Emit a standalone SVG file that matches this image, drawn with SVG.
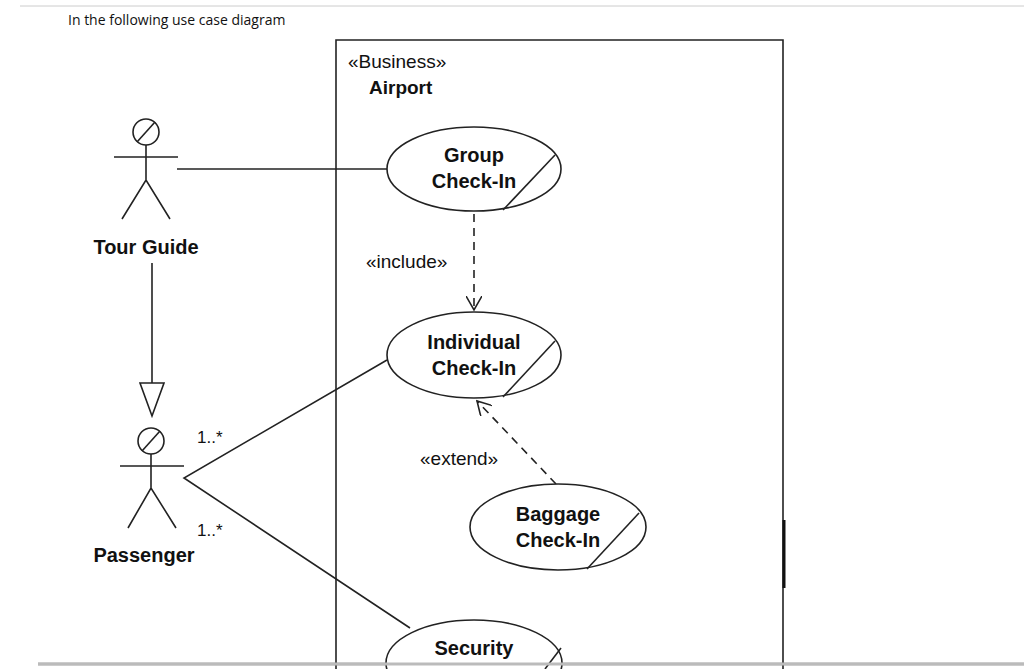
<svg xmlns="http://www.w3.org/2000/svg" width="1024" height="669" viewBox="0 0 1024 669">
<style>
.l{stroke:#222;stroke-width:1.6;fill:none}
.u{stroke:#222;stroke-width:1.6;fill:#fff}
.d{stroke:#222;stroke-width:1.6;fill:none;stroke-dasharray:8,6}
text{font-family:"Liberation Sans",Arial,sans-serif;fill:#111}
.n{font-size:20px;font-weight:bold;text-anchor:middle}
.s{font-size:19px}
</style>
<defs>
<marker id="open" markerWidth="16" markerHeight="16" refX="14" refY="8" orient="auto" markerUnits="userSpaceOnUse"><path d="M0,0 L14,8 L0,16" fill="none" stroke="#222" stroke-width="1.6"/></marker>
</defs>
<rect width="1024" height="669" fill="#fff"/>
<line x1="20" y1="6" x2="1024" y2="6" stroke="#ccc"/>
<line x1="38" y1="664" x2="1024" y2="664" stroke="#bbb" stroke-width="3"/>
<text x="68" y="25" style="font-family:'Open Sans',sans-serif;font-size:14px">In the following  use case diagram</text>
<g id="boundary">
<path class="l" d="M336,669 V40 H783 V669"/>
<line x1="784" y1="520" x2="784" y2="588" stroke="#111" stroke-width="3"/>
<text x="348" y="68" class="s">«Business»</text>
<text x="369" y="94" class="s" font-weight="bold">Airport</text>
</g>
<g id="connectors">
<line class="l" x1="177" y1="169" x2="387" y2="169"/>
<line class="l" x1="152" y1="263" x2="152" y2="383"/>
<path class="u" d="M140,383 H164 L152,416 Z"/>
<path class="l" d="M387,360 L184,478 L410,628"/>
<line class="d" x1="474" y1="214" x2="474" y2="310" marker-end="url(#open)"/>
<line class="d" x1="556" y1="484" x2="477" y2="401" marker-end="url(#open)"/>
<text x="366" y="268" class="s">«include»</text>
<text x="420" y="465" class="s">«extend»</text>
<text x="197" y="443" style="font-size:17px">1..*</text>
<text x="197" y="536" style="font-size:17px">1..*</text>
</g>
<g id="tourguide">
<circle class="l" cx="146" cy="132" r="13"/>
<line class="l" x1="137" y1="142" x2="155" y2="122"/>
<path class="l" d="M114,157 H178 M146,145 V180 M122,219 L146,180 L170,219"/>
<text x="146" y="254" class="n">Tour Guide</text>
</g>
<g id="passenger">
<circle class="l" cx="151" cy="441" r="13"/>
<line class="l" x1="142" y1="451" x2="160" y2="431"/>
<path class="l" d="M120,466 H184 M151,454 V488 M128,528 L151,488 L176,528"/>
<text x="144" y="562" class="n">Passenger</text>
</g>
<g id="group">
<ellipse class="u" cx="474" cy="169" rx="87" ry="42"/>
<line class="l" x1="555" y1="155" x2="503" y2="210"/>
<text x="474" y="162" class="n">Group</text>
<text x="474" y="188" class="n">Check-In</text>
</g>
<g id="individual">
<ellipse class="u" cx="474" cy="355" rx="87" ry="43"/>
<line class="l" x1="555" y1="341" x2="503" y2="397"/>
<text x="474" y="349" class="n">Individual</text>
<text x="474" y="375" class="n">Check-In</text>
</g>
<g id="baggage">
<ellipse class="u" cx="558" cy="527" rx="88" ry="43"/>
<line class="l" x1="639" y1="513" x2="587" y2="569"/>
<text x="558" y="521" class="n">Baggage</text>
<text x="558" y="547" class="n">Check-In</text>
</g>
<g id="security">
<ellipse class="u" cx="474" cy="663" rx="88" ry="43"/>
<line class="l" x1="561" y1="648" x2="545" y2="669"/>
<text x="474" y="655" class="n">Security</text>
</g>
<line x1="38" y1="664" x2="1024" y2="664" stroke="#bbb" stroke-width="3"/>
</svg>
